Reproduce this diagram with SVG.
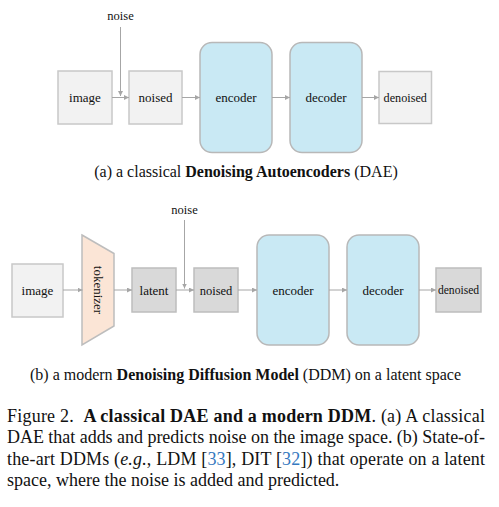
<svg xmlns="http://www.w3.org/2000/svg" width="499" height="507" viewBox="0 0 499 507">
<style>
text{font-family:"Liberation Serif","Times New Roman",serif;fill:#111}
.lbl{font-size:13px;text-anchor:middle}
.light{fill:#F2F2F2;stroke:#C8C8C8;stroke-width:1.5}
.dark{fill:#D9D9D9;stroke:#BDBDBD;stroke-width:1.5}
.blue{fill:#C9E9F4;stroke:#B8B8B8;stroke-width:1.5}
.tok{fill:#FBE5D6;stroke:#BDBDBD;stroke-width:1.5}
.conn line{stroke:#A6A6A6;stroke-width:1;marker-end:url(#ah)}
.cap{font-size:16px;text-anchor:middle}
.fig{font-size:18px}
.cite{fill:#3579C0}
</style>
<defs>
<marker id="ah" markerUnits="userSpaceOnUse" markerWidth="6" markerHeight="6" refX="5" refY="2.5" orient="auto">
<path d="M0,0 L5,2.5 L0,5 z" fill="#A6A6A6"/>
</marker>
</defs>

<!-- (a) -->
<g id="a-noise"><text class="lbl" x="120.5" y="20" style="font-size:12.5px">noise</text></g>
<g id="a-image"><rect class="light" x="58" y="71" width="54" height="53"/><text class="lbl" x="85" y="102">image</text></g>
<g id="a-noised"><rect class="light" x="129" y="71" width="53" height="53"/><text class="lbl" x="155.5" y="102">noised</text></g>
<g id="a-encoder"><rect class="blue" x="200" y="42.5" width="72" height="110" rx="12"/><text class="lbl" x="236" y="102">encoder</text></g>
<g id="a-decoder"><rect class="blue" x="290" y="42.5" width="72" height="110" rx="12"/><text class="lbl" x="326" y="102">decoder</text></g>
<g id="a-denoised"><rect class="light" x="379" y="71.5" width="52.5" height="52"/><text class="lbl" x="405.25" y="101.5" style="font-size:12.2px">denoised</text></g>

<g id="a-connectors" class="conn">
<line x1="112" y1="97.5" x2="129" y2="97.5"/>
<line x1="120.5" y1="27" x2="120.5" y2="96"/>
<line x1="182" y1="97.5" x2="200" y2="97.5"/>
<line x1="272" y1="97.5" x2="290" y2="97.5"/>
<line x1="362" y1="97.5" x2="379" y2="97.5"/>
</g>

<text class="cap" x="246" y="177">(a) a classical <tspan font-weight="bold">Denoising Autoencoders</tspan> (DAE)</text>

<!-- (b) -->
<g id="b-noise"><text class="lbl" x="184.5" y="214" style="font-size:12.5px">noise</text></g>
<g id="b-image"><rect class="light" x="12" y="264" width="51" height="53"/><text class="lbl" x="37.5" y="294.5">image</text></g>
<g id="b-tokenizer"><path class="tok" d="M82,235 L114,253.5 L114,326 L82,345 Z"/><text class="lbl" transform="translate(98,290) rotate(90)" x="0" y="4.5">tokenizer</text></g>
<g id="b-latent"><rect class="dark" x="132" y="268" width="44" height="44"/><text class="lbl" x="154" y="294.5">latent</text></g>
<g id="b-noised"><rect class="dark" x="194" y="268" width="44" height="44"/><text class="lbl" x="216" y="294.5" style="font-size:12.5px">noised</text></g>
<g id="b-encoder"><rect class="blue" x="257" y="235" width="72" height="110" rx="12"/><text class="lbl" x="293" y="294.5">encoder</text></g>
<g id="b-decoder"><rect class="blue" x="347" y="235" width="72" height="110" rx="12"/><text class="lbl" x="383" y="294.5">decoder</text></g>
<g id="b-denoised"><rect class="dark" x="436" y="268" width="45" height="44"/><text class="lbl" x="458.5" y="294" style="font-size:11.6px">denoised</text></g>

<g id="b-connectors" class="conn">
<line x1="63" y1="290" x2="82.5" y2="290"/>
<line x1="114" y1="290" x2="132" y2="290"/>
<line x1="176" y1="290" x2="194" y2="290"/>
<line x1="184.5" y1="220" x2="184.5" y2="288.5"/>
<line x1="238" y1="290" x2="257" y2="290"/>
<line x1="329" y1="290" x2="347" y2="290"/>
<line x1="419" y1="290" x2="436" y2="290"/>
</g>

<text class="cap" x="245.5" y="380">(b) a modern <tspan font-weight="bold">Denoising Diffusion Model</tspan> (DDM) on a latent space</text>

<!-- figure caption -->
<text class="fig" x="7" y="421.5" textLength="478" lengthAdjust="spacing">Figure 2.&#160; <tspan font-weight="bold">A classical DAE and a modern DDM</tspan>. (a) A classical</text>
<text class="fig" x="7" y="443" textLength="478" lengthAdjust="spacing">DAE that adds and predicts noise on the image space. (b) State-of-</text>
<text class="fig" x="7" y="464.5" textLength="478" lengthAdjust="spacing">the-art DDMs (<tspan font-style="italic">e.g.</tspan>, LDM [<tspan class="cite">33</tspan>], DIT [<tspan class="cite">32</tspan>]) that operate on a latent</text>
<text class="fig" x="7" y="486">space, where the noise is added and predicted.</text>
</svg>
